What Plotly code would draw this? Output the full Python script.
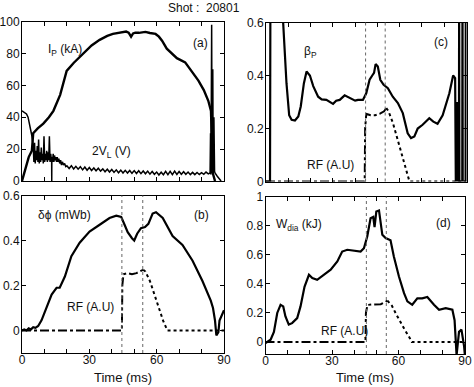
import plotly.graph_objects as go

# ---------------- data ----------------
# (a) plasma current Ip (kA)
t_ip = [0, 1.5, 3, 4.4, 5, 7, 9.5, 12, 14, 17, 19.9, 23, 27.2, 31, 34.6, 38, 40.5, 43, 46.4, 47.5,
        48.6, 49.5, 50.5, 52.1, 55, 57, 59.5, 61, 62.4, 64.5, 66.8, 69, 72.7, 75, 78.6, 81, 83, 84.2,
        84.5, 85, 86]
ip = [0, 8, 15, 19, 30, 33, 36, 40, 44, 54, 69, 74, 79.7, 85, 88.5, 91, 92.2, 93, 93.7, 93,
      90.5, 92.5, 93, 92.9, 93.5, 92.8, 92.2, 90.5, 88, 83, 79.7, 77, 74.4, 70, 62.9, 57, 50.3, 44,
      20, 5, 0]

# (a) loop voltage 2VL (V)
t_vl = [0, 1, 2, 2.7, 3.5, 4.3, 5, 5.3, 5.6, 5.9, 6.2, 6.5, 6.8, 7.1, 7.4, 7.7, 8.0, 8.3, 8.6,
        8.9, 9.2, 9.5, 9.8, 10.1, 10.4, 10.7, 11.0, 11.3, 11.6, 11.9, 12.2, 12.5, 12.8, 13.1,
        13.2, 13.25, 13.3, 13.6, 13.9, 14.2, 14.5, 14.8, 15.1, 15.4, 15.7, 16.0, 16.4, 16.8,
        17.2, 17.6, 18.0, 18.5, 19.0, 19.5,
        20, 21, 22, 23, 24, 25, 26, 27, 28, 29, 30, 31, 32, 33, 34, 35, 36, 37, 38, 39, 40, 41, 42,
        43, 44, 45, 46, 47, 48, 49, 50, 51, 52, 53, 54, 55, 56, 57, 58, 59, 60, 61, 62, 63, 64, 65,
        66, 67, 68, 69, 70, 71, 72, 73, 74, 75, 76, 77, 78, 79, 80, 81, 82, 83,
        83.8, 84.0, 84.2, 84.5, 84.7, 85, 85.2, 85.5, 85.8, 86, 87, 88.7]
vl = [44, 43, 42, 40, 35, 29, 22, 12, 24, 11, 19, 13, 22, 12, 26, 11, 18, 12, 21, 13,
      17, 11, 28, 12, 17, 13, 19, 12, 18, 13, 28, 12, 17, 13,
      15, 0, 15, 12, 17, 12, 16, 13, 15, 12, 15, 12, 14, 11,
      13, 10, 12, 10, 11, 9,
      9.5, 7.8, 9.6, 7.5, 9.2, 7.4, 9.0, 7.0, 8.8, 6.8, 8.5, 6.6, 8.2, 6.4, 8.0, 6.2, 7.6, 5.8, 7.4,
      5.6, 7.2, 5.4, 7.0, 5.2, 6.8, 5.0, 6.7, 5.0, 6.6, 4.8, 6.5, 4.7, 6.4, 4.6, 6.3, 4.5, 6.2, 4.3,
      6.0, 4.2, 5.6, 3.8, 5.5, 3.9, 6.0, 4.0, 6.1, 4.0, 6.2, 4.1, 6.0, 4.2, 5.8, 4.2, 5.6, 4.0, 5.4,
      4.0, 5.3, 4.1, 5.2, 4.2, 5.6, 4.5,
      5, 30, 4, 98, 5, 70, 4, 40, 6, 5, 3, 0]

# (b) diamagnetic flux delta-phi (mWb)
t_phi = [0, 1, 2, 3, 4, 5, 6, 7.2, 8.7, 10.9, 13.2, 15.4, 16.8, 19.1, 22, 25.7, 30.1, 34.6, 39, 42,
         44.2, 45.7, 47.1, 49, 50, 51.3, 53, 54.8, 56.3, 58.2, 59.7, 62.7, 67.1, 71.5, 76, 80.4,
         84.1, 85.1, 86, 86.6, 87.5, 88, 89.3, 90]
phi = [0, 0.005, 0, 0.01, 0.005, 0.015, 0.012, 0.02, 0.045, 0.1, 0.16, 0.19, 0.19, 0.24, 0.33,
       0.39, 0.44, 0.47, 0.5, 0.51, 0.505, 0.47, 0.437, 0.41, 0.40, 0.43, 0.455, 0.46, 0.474,
       0.52, 0.526, 0.50, 0.42, 0.38, 0.31, 0.22, 0.133, 0.10, 0.044, -0.022, -0.007, 0.044,
       0.08, 0.09]

# (c) poloidal beta
t_bp = [0, 1.5, 1.8, 2, 4, 7, 7.7, 9.2, 10.4, 11.5, 13, 14.5, 15.6, 17, 18.2, 19.7, 21.2, 23.4,
        25, 27.1, 28.5, 30.1, 31.5, 33.1, 35.3, 36.8, 38.3, 40, 41.3, 43.5, 45, 46.5, 47.7, 48.5,
        49.2, 50.2, 51.3, 52.8, 54.7, 56.9, 59.2, 61.4, 63.6, 65.1, 66.6, 68.1, 70.3, 71.8, 73.3,
        75.1, 77, 79.3, 82.3, 84, 84.9, 85.2, 85.6, 85.7, 85.8, 86.6, 86.7, 86.8, 88.1, 88.2,
        88.3, 89.6, 89.7, 89.8, 90]
bp = [0, 0, 0, 0.8, 1.2, 0.9, 0.6, 0.37, 0.25, 0.233, 0.23, 0.245, 0.283, 0.37, 0.415, 0.40,
      0.36, 0.32, 0.31, 0.308, 0.3, 0.293, 0.305, 0.308, 0.325, 0.318, 0.314, 0.305, 0.308,
      0.308, 0.333, 0.384, 0.40, 0.41, 0.443, 0.434, 0.384, 0.365, 0.352, 0.32, 0.296, 0.258,
      0.182, 0.164, 0.17, 0.20, 0.214, 0.225, 0.239, 0.226, 0.218, 0.25, 0.333, 0.40, 0.39,
      0, 0, 0.3, 0, 0, 0.8, 0, 0, 0.8, 0, 0, 0.8, 0, 0]

# (d) diamagnetic energy Wdia (kJ)
t_w = [0, 2.3, 3.8, 5.3, 6.8, 8, 9, 10.5, 12, 14.3, 15.8, 17.6, 19.6, 21.1, 23.3, 26.3, 29.4,
       32.4, 34.6, 36.9, 39.9, 42.9, 44.4, 45.9, 47.4, 48.6, 49.2, 50, 51.2, 51.9, 52.7, 54.2,
       56.4, 57.9, 60.2, 62.5, 64, 66.2, 68.5, 70.7, 73, 76, 78.3, 81.3, 84.3, 85.3, 86.2, 87.3,
       88.4, 89.6, 90]
w = [-0.007, 0.016, 0.07, 0.2, 0.256, 0.245, 0.176, 0.12, 0.13, 0.165, 0.245, 0.38, 0.462,
     0.44, 0.428, 0.462, 0.497, 0.554, 0.622, 0.634, 0.629, 0.622, 0.645, 0.725, 0.85, 0.86,
     0.79, 0.897, 0.904, 0.817, 0.737, 0.714, 0.70, 0.588, 0.45, 0.336, 0.28, 0.256, 0.30, 0.30,
     0.31, 0.256, 0.222, 0.233, 0.222, 0.15, -0.09, 0.07, 0.085, -0.03, -0.1]

# RF power (A.U) in panels b, c, d: flat part and ramp-down part
t_rf_b = [0, 44.5, 44.7, 45.2, 47, 49, 51, 53, 54]
rf_b = [0, 0, 0.20, 0.25, 0.255, 0.25, 0.255, 0.265, 0.27]
t_rfd_b = [54, 55, 57, 59, 61, 63, 64.8, 90]
rfd_b = [0.27, 0.262, 0.22, 0.16, 0.10, 0.04, 0, 0]

t_rf_c = [0, 44.3, 44.5, 45, 47, 49, 51, 53, 54]
rf_c = [0, 0, 0.2, 0.255, 0.25, 0.25, 0.255, 0.265, 0.277]
t_rfd_c = [54, 55, 57, 59, 61, 63, 64.4, 90]
rfd_c = [0.277, 0.265, 0.22, 0.16, 0.10, 0.04, 0, 0]

t_rf_d = [0, 45.1, 45.3, 46, 48, 50, 52, 54, 55]
rf_d = [0, 0, 0.2, 0.255, 0.258, 0.258, 0.26, 0.275, 0.285]
t_rfd_d = [55, 57, 59, 61, 63, 65, 66, 90]
rfd_d = [0.285, 0.25, 0.19, 0.13, 0.08, 0.03, 0, 0]

# RF on / off markers (ms)
rf_marks_b = [44.5, 53.8]
rf_marks_c = [44.7, 53.5]
rf_marks_d = [45.5, 54.5]

x_ticks = [0, 30, 60, 90]
x_labels = ["0", "30", "60", "90"]

# ---------------- figure ----------------
FONT = "Liberation Sans, Arial, sans-serif"
fig = go.Figure()

def line(x, y, xa, ya, width=2, dash="solid"):
    fig.add_trace(go.Scatter(x=x, y=y, mode="lines", xaxis=xa, yaxis=ya,
                             line=dict(color="black", width=width, dash=dash),
                             showlegend=False, hoverinfo="skip"))

# panel a
line(t_vl, vl, "x", "y", width=1.5)
line(t_ip, ip, "x", "y", width=2.4)
# panel b
line(t_rf_b, rf_b, "x2", "y2", width=2, dash="dashdot")
line(t_rfd_b, rfd_b, "x2", "y2", width=2, dash="dot")
line(t_phi, phi, "x2", "y2", width=2.2)
# panel c
line(t_rf_c, rf_c, "x3", "y3", width=2, dash="dashdot")
line(t_rfd_c, rfd_c, "x3", "y3", width=2, dash="dot")
line(t_bp, bp, "x3", "y3", width=2.2)
# panel d
line(t_rf_d, rf_d, "x4", "y4", width=2, dash="dashdot")
line(t_rfd_d, rfd_d, "x4", "y4", width=2, dash="dot")
line(t_w, w, "x4", "y4", width=2.2)

W, H = 474, 387
def px(xl, xr):
    return [xl / W, xr / W]
def py(yt, yb):
    return [1 - yb / H, 1 - yt / H]

axis_common = dict(showline=True, linecolor="black", linewidth=1, mirror="ticks",
                   ticks="inside", ticklen=4, tickcolor="black", showgrid=False,
                   zeroline=False, tickfont=dict(family=FONT, size=12, color="#111"),
                   ticklabeloverflow="allow", automargin=False)

def xax(dom, anchor, labels):
    d = dict(axis_common)
    d.update(domain=dom, anchor=anchor, range=[0, 90], tickmode="array", tickvals=x_ticks,
             ticktext=x_labels, showticklabels=labels,
             minor=dict(ticks="inside", tick0=0, dtick=10, ticklen=4, tickcolor="black",
                        showgrid=False))
    if labels:
        d.update(ticklabelstandoff=-4)
    return d

def yax(dom, anchor, rng, vals, texts):
    d = dict(axis_common)
    d.update(domain=dom, anchor=anchor, range=rng, tickmode="array", tickvals=vals,
             ticktext=texts, ticklabelstandoff=-1)
    return d

fig.update_layout(
    width=W, height=H, autosize=False, paper_bgcolor="white", plot_bgcolor="white",
    margin=dict(l=0, r=0, t=0, b=0, pad=0),
    xaxis=xax(px(22, 224), "y", False),
    yaxis=yax(py(21.5, 181), "x", [0, 100], [0, 20, 40, 60, 80, 100],
              ["0", "20", "40", "60", "80", "100"]),
    xaxis2=xax(px(22, 224), "y2", True),
    yaxis2=yax(py(195.5, 353), "x2", [-0.1, 0.6], [0, 0.2, 0.4, 0.6],
               ["0", "0.2", "0.4", "0.6"]),
    xaxis3=xax(px(266, 466.5), "y3", False),
    yaxis3=yax(py(22.5, 181.5), "x3", [0, 0.6], [0, 0.2, 0.4, 0.6],
               ["0", "0.2", "0.4", "0.6"]),
    xaxis4=xax(px(265.5, 465), "y4", True),
    yaxis4=yax(py(196.5, 354), "x4", [-0.082, 1], [0, 0.2, 0.4, 0.6, 0.8, 1],
               ["0", "0.2", "0.4", "0.6", "0.8", "1"]),
)

# RF on/off dotted markers
for marks, xr, yr in [(rf_marks_b, "x2", "y2 domain"), (rf_marks_c, "x3", "y3 domain"),
                      (rf_marks_d, "x4", "y4 domain")]:
    for m in marks:
        fig.add_shape(type="line", xref=xr, yref=yr, x0=m, x1=m, y0=0, y1=1,
                      line=dict(color="#666", width=1, dash="dot"))

def note(text, x, y, xr, yr, size=12, xanchor="left"):
    fig.add_annotation(text=text, x=x, y=y, xref=xr, yref=yr, showarrow=False,
                       xanchor=xanchor, yanchor="middle",
                       font=dict(family=FONT, size=size, color="#111"))

note("I<sub>P</sub> (kA)", 10.5, 82, "x", "y")
note("2V<sub>L</sub> (V)", 30.5, 18, "x", "y")
note("(a)", 79.5, 86.5, "x", "y", xanchor="center")
note("δϕ (mWb)", 6.2, 0.515, "x2", "y2")
note("(b)", 80, 0.515, "x2", "y2", xanchor="center")
note("RF (A.U)", 19, 0.104, "x2", "y2")
note("β<sub>P</sub>", 16, 0.49, "x3", "y3")
note("(c)", 78.7, 0.528, "x3", "y3", xanchor="center")
note("RF (A.U)", 17.5, 0.063, "x3", "y3")
note("W<sub>dia</sub> (kJ)", 3.7, 0.805, "x4", "y4")
note("(d)", 80.3, 0.817, "x4", "y4", xanchor="center")
note("RF (A.U)", 24, 0.073, "x4", "y4")

# axis titles and figure title
for xc in [(22 + 224) / 2, (265.5 + 465) / 2]:
    fig.add_annotation(text="Time (ms)", x=xc / W, y=1 - 377 / H, xref="paper", yref="paper",
                       showarrow=False, xanchor="center", yanchor="middle",
                       font=dict(family=FONT, size=13, color="#111"))

fig.add_annotation(text="Shot :  20801", x=204 / W, y=1 - 8 / H, xref="paper", yref="paper",
                   showarrow=False, xanchor="center", yanchor="middle",
                   font=dict(family=FONT, size=12, color="#111"))

fig.write_html("out.html",
               config={"responsive": False, "displayModeBar": False},
               post_script="document.body.style.margin='0';document.body.style.padding='0';"
                           "document.body.style.overflow='hidden';")
